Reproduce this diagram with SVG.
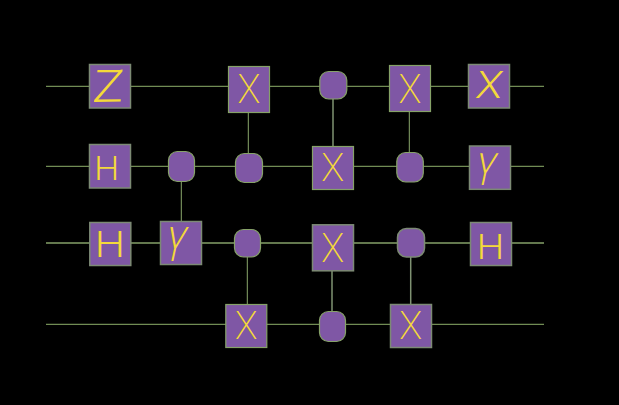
<svg xmlns="http://www.w3.org/2000/svg" width="619" height="405" viewBox="0 0 619 405">
<style>
.w{stroke:#8eb06a;stroke-width:1;fill:none}
.w2{stroke:#85a068;stroke-width:1.5;fill:none}
.c{stroke:#8aa86c;stroke-width:1;fill:none}
.c2{stroke:#7f9272;stroke-width:1.5;fill:none}
.b{fill:#7f57a5;stroke:#86a268;stroke-width:1.2}
.g{fill:#7f57a5;stroke:#7c8a74;stroke-width:1.5}
.t{fill:#f4d93a;font-family:"Roboto","Liberation Sans",sans-serif;font-weight:200;font-size:40px;text-anchor:middle}
.h{font-weight:300}
</style>
<rect width="619" height="405" fill="#000"/>
<g id="connectors">
<path class="w" d="M46 86.3H544M46 166.3H544M46 324.3H544"/>
<path class="w2" d="M46 243H544"/>
<path class="c" d="M181.3 181V222M248.3 112V154M247.3 256V305M409.3 111V153"/>
<path class="c2" d="M333 99V147M332 271V312M410.7 256V305"/>
</g>
<g id="gate-z"><rect class="g" x="89.5" y="64.5" width="41" height="43.5"/><text class="t h" y="14.2" transform="translate(108.7 85.8) rotate(-1) skewX(-6) scale(1.3 1.12)">Z</text></g>
<g id="gate-h1"><rect class="g" x="89.5" y="144.5" width="41" height="43.5"/><text class="t h" y="14.2" transform="translate(106.7 168) scale(.88 .82)">H</text></g>
<g id="gate-h2"><rect class="g" x="89.8" y="222.5" width="41" height="43"/><text class="t h" y="14.2" transform="translate(110 244) scale(1.07 .94)">H</text></g>
<g id="ctrl-1"><rect class="b" x="168.5" y="151.5" width="26" height="30" rx="9"/></g>
<g id="gate-y1"><rect class="g" x="160.5" y="221.5" width="41" height="43"/><text class="t h" y="14.2" transform="translate(176 244) skewX(-12) scale(.8 1.2)">Y</text></g>
<g id="gate-x1"><rect class="b" x="228.5" y="66.5" width="41" height="46"/><text class="t" y="14.2" transform="translate(249 89) scale(.95 1.02)">X</text></g>
<g id="ctrl-2"><rect class="b" x="235.5" y="153.5" width="27" height="29" rx="9"/></g>
<g id="ctrl-3"><rect class="b" x="234.5" y="229.5" width="26" height="27.5" rx="9"/></g>
<g id="gate-x3"><rect class="b" x="225.8" y="304.5" width="41" height="43"/><text class="t" y="14.2" transform="translate(246.3 325.5) scale(.93 .95)">X</text></g>
<g id="ctrl-4"><rect class="b" x="319.8" y="71.5" width="27" height="27.5" rx="9"/></g>
<g id="gate-x2"><rect class="b" x="312.5" y="146.5" width="41" height="43"/><text class="t" y="14.2" transform="translate(332.7 167.5) scale(.95 .95)">X</text></g>
<g id="gate-x4"><rect class="g" x="312.5" y="224.8" width="41" height="46"/><text class="t" y="14.2" transform="translate(332.7 247.5) scale(.95 1)">X</text></g>
<g id="ctrl-5"><rect class="b" x="319.5" y="311.5" width="26" height="30" rx="9"/></g>
<g id="gate-x5"><rect class="b" x="389.5" y="65.5" width="41" height="46"/><text class="t" y="14.2" transform="translate(410 88.3) scale(.95 1.02)">X</text></g>
<g id="ctrl-6"><rect class="b" x="396.8" y="152.5" width="26.5" height="29.5" rx="9"/></g>
<g id="ctrl-7"><rect class="g" x="397.5" y="228.5" width="27" height="28.5" rx="9"/></g>
<g id="gate-x7"><rect class="g" x="390.5" y="304.5" width="41" height="43"/><text class="t" y="14.2" transform="translate(410.7 325.5) scale(.95 .95)">X</text></g>
<g id="gate-x6"><rect class="g" x="468.5" y="64.5" width="41" height="43.5"/><text class="t h" y="14.2" transform="translate(489.5 84.7) skewX(-8) scale(1.08 .95)">X</text></g>
<g id="gate-y2"><rect class="g" x="469.5" y="146" width="41" height="43.3"/><text class="t h" y="14.2" transform="translate(486 169) skewX(-12) scale(.8 1.12)">Y</text></g>
<g id="gate-h3"><rect class="g" x="470.5" y="222.5" width="41" height="43"/><text class="t h" y="14.2" transform="translate(490.5 246) scale(.97 .9)">H</text></g>
</svg>
